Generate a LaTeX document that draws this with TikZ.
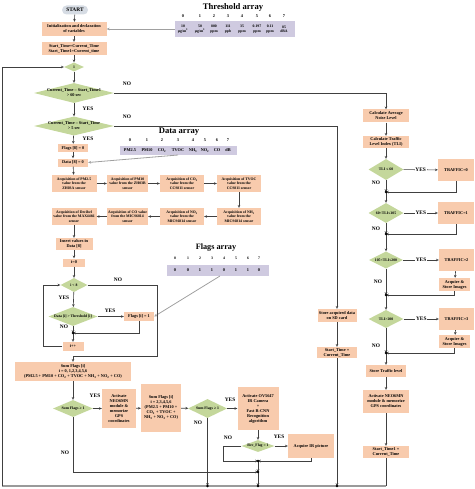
\documentclass[tikz,border=0pt]{standalone}
\usepackage{fontspec}
\setmainfont{Liberation Serif}
\usetikzlibrary{shapes.geometric,arrows.meta}
\definecolor{salm}{HTML}{F8CBAD}
\definecolor{grn}{HTML}{C4D79B}
\definecolor{lav}{HTML}{CFCAE0}
\definecolor{stc}{HTML}{D6DCE4}
\definecolor{lnc}{HTML}{404040}
\definecolor{ptc}{HTML}{A0A0A0}
\definecolor{btc}{HTML}{9A9A9A}
\newcommand\fa{\fontsize{3.8}{4.4}\selectfont\bfseries}
\newcommand\fb{\fontsize{4.3}{5}\selectfont\bfseries}
\newcommand\fl{\fontsize{5.4}{6}\selectfont\bfseries}
\newcommand\ft{\fontsize{8.6}{10}\selectfont\bfseries}
\begin{document}
\begin{tikzpicture}[x=1pt,y=-1pt,
  box/.style={fill=salm, inner sep=0.3pt, align=center, font=\fb},
  abox/.style={box, font=\fa, minimum width=44pt, minimum height=17pt},
  dm/.style 2 args={diamond, fill=grn, inner sep=0pt, minimum width=#1, minimum height=#2},
  dtxt/.style={font=\fa, align=center, inner sep=0pt},
  ln/.style={draw=lnc, line width=0.6pt},
  ar/.style={ln, -{Stealth[length=2.8pt,width=2.6pt]}},
  ptr/.style={draw=ptc, line width=0.8pt, -{Stealth[length=3pt,width=2.8pt]}},
  bot/.style={draw=btc, line width=1.8pt},
  lbl/.style={font=\fl, inner sep=0.5pt},
  lblw/.style={font=\fl, inner sep=0.6pt, fill=white},
  arr/.style={fill=lav, inner sep=0pt},
  idx/.style={font=\fb, inner sep=0pt},
  cell/.style={font=\fa, align=center, inner sep=0pt},
  jd/.style={fill=black}
]
\useasboundingbox (0,0) rectangle (474,489);

% ---------- left main column ----------
\node[fill=stc, rounded corners=4.5pt, minimum width=26pt, minimum height=9pt, inner sep=0pt, font=\fl] (start) at (75,10) {START};
\node[box, minimum width=65pt, minimum height=14pt] (init) at (74,29) {Initialization and declaration\\of variables};
\node[box, minimum width=65pt, minimum height=13pt] (st) at (74,48.5) {Start\_Time=Current\_Time\\Start\_Time1=Current\_time};
\node[dm={20pt}{9pt}] (d1) at (74,67) {};
\node[dtxt] (d1t) at (d1) {1};
\node[dm={80pt}{20pt}] (dA) at (74,93) {};
\node[dtxt, font=\fb] (dAt) at (dA) {Current\_Time -- Start\_Time1\\> 60 sec};
\node[dm={80pt}{19pt}] (dB) at (74,126) {};
\node[dtxt, font=\fb] (dBt) at (dB) {Current\_Time -- Start\_Time\\> 5 sec};
\node[box, minimum width=30pt, minimum height=8pt] (flags0) at (73,148) {Flags [8] = 0};
\node[box, minimum width=30pt, minimum height=8pt] (data0) at (73,162.5) {Data [8] = 0};

\node[abox, minimum width=45pt] (acqA) at (74,183.5) {Acquisition of PM2.5\\value from the\\ZH03A sensor};
\node[abox, minimum width=41pt] (acqB) at (127.5,183.5) {Acquisition of PM10\\value from the ZH03B\\sensor};
\node[abox] (acqC) at (182,183.5) {Acquisition of CO\textsubscript{2}\\value from the\\CCS811 sensor};
\node[abox] (acqD) at (239,183.5) {Acquisition of TVOC\\value from the\\CCS811 sensor};
\node[abox] (acqH) at (239,216.5) {Acquisition of NH\textsubscript{3}\\value from the\\MICS6814 sensor};
\node[abox] (acqG) at (182,216.5) {Acquisition of NO\textsubscript{2}\\value from the\\MICS6814 sensor};
\node[abox, minimum width=41pt] (acqF) at (127.5,216.5) {Acquisition of CO value\\from the MICS6814\\sensor};
\node[abox, minimum width=45pt] (acqE) at (74,216.5) {Acquisition of Decibel\\value from the MAX4466\\sensor};

\node[box, minimum width=37pt, minimum height=12pt] (insert) at (74,244) {Insert values in\\Data [8]};
\node[box, minimum width=22pt, minimum height=8pt] (i0) at (74,262.5) {i=0};
\node[dm={27pt}{14pt}] (di) at (74,285) {};
\node[dtxt] (dit) at (di) {i < 8};
\node[dm={49pt}{19pt}] (dth) at (73,316.5) {};
\node[dtxt] (dtht) at (dth) {Data [i] > Threshold [i]};
\node[box, minimum width=30pt, minimum height=9pt] (flg1) at (139,316.5) {Flags [i] = 1};
\coordinate (j1) at (73,333);
\node[box, minimum width=21pt, minimum height=9pt] (ipp) at (73,346.5) {i++};
\node[box, minimum width=116pt, minimum height=19pt] (sum1) at (73,371.5) {Sum Flags [i]\\i = 0, 1,2,3,4,5,6\\(PM2.5 + PM10 + CO\textsubscript{2} + TVOC + NH\textsubscript{3} + NO\textsubscript{2} + CO)};
\node[dm={40pt}{17pt}] (ds1) at (73,408.5) {};
\node[dtxt] (ds1t) at (ds1) {Sum Flags ≥ 1};
\node[box, minimum width=34pt, minimum height=39pt] (neo1) at (119,408.5) {Activate\\NEO6MN\\module \&\\memorize\\GPS\\coordinates};
\node[box, minimum width=40pt, minimum height=48pt] (sum2) at (161,408) {Sum Flags [i]\\i = 2,3,4,5,6\\(PM2.5 + PM10 +\\CO\textsubscript{2} + TVOC +\\NH\textsubscript{3} + NO\textsubscript{2} + CO)};
\node[dm={39pt}{19pt}] (ds2) at (207.5,408.5) {};
\node[dtxt] (ds2t) at (ds2) {Sum Flags ≥ 1};
\node[box, minimum width=41pt, minimum height=43pt] (ov) at (258,408.5) {Activate OV5647\\IR Camera\\+\\Fast R-CNN\\Recognition\\algorithm};
\node[dm={33pt}{12pt}] (drec) at (258,446) {};
\node[dtxt] (drect) at (drec) {Rec\_Flag = 1};
\node[box, minimum width=46pt, minimum height=24pt] (acqir) at (311,446) {Acquire IR picture};

% ---------- middle column ----------
\node[box, minimum width=39pt, minimum height=13pt] (sd) at (337,315.5) {Store acquired data\\on SD card};
\node[box, minimum width=40pt, minimum height=11pt] (stt) at (337,352.5) {Start\_Time =\\Current\_Time};

% ---------- right column ----------
\node[box, minimum width=46pt, minimum height=13pt] (avg) at (386,116) {Calculate Average\\Noise Level};
\node[box, minimum width=46pt, minimum height=12pt] (tli) at (386,142) {Calculate Traffic\\Level Index (TLI)};
\node[dm={35pt}{21pt}] (dt1) at (386,169.5) {};
\node[dtxt] (dt1t) at (dt1) {TLI ≤ 60};
\node[box, minimum width=36pt, minimum height=22pt] (t0) at (456,170) {TRAFFIC=0};
\coordinate (jt1) at (386,192);
\node[dm={35pt}{20pt}] (dt2) at (386,213) {};
\node[dtxt] (dt2t) at (dt2) {60<TLI≤105};
\node[box, minimum width=36pt, minimum height=22pt] (t1) at (456,213) {TRAFFIC=1};
\coordinate (jt2) at (386,234);
\node[dm={34pt}{17pt}] (dt3) at (386,260) {};
\node[dtxt] (dt3t) at (dt3) {105<TLI≤200};
\node[box, minimum width=35pt, minimum height=22pt] (t2) at (456.5,260) {TRAFFIC=2};
\node[box, minimum width=31pt, minimum height=13pt] (as2) at (454.5,284.5) {Acquire \&\\Store Images};
\coordinate (jt3) at (386,295);
\node[dm={35pt}{18pt}] (dt4) at (386,319) {};
\node[dtxt] (dt4t) at (dt4) {TLI>200};
\node[box, minimum width=35pt, minimum height=22pt] (t3) at (456.5,319) {TRAFFIC=3};
\node[box, minimum width=31pt, minimum height=13pt] (as3) at (454.5,341.5) {Acquire \&\\Store Images};
\coordinate (jt4) at (386,353);
\node[box, minimum width=40pt, minimum height=12pt] (stl) at (386,371) {Store Traffic level};
\node[box, minimum width=46pt, minimum height=23pt] (neo2) at (386,401.5) {Activate NEO6MN\\module \& memorize\\GPS coordinates};
\node[box, minimum width=46pt, minimum height=12pt] (st1) at (386,452) {Start\_Time1 =\\Current\_Time};

% ---------- arrays ----------
\node[font=\ft, inner sep=0pt] (thrt) at (233,7) {Threshold array};
\node[arr, minimum width=120pt, minimum height=16pt] (thr) at (235,29) {};
\foreach \i/\x/\t in {0/183/{10\\µg/m\textsuperscript{3}},1/200/{50\\µg/m\textsuperscript{3}},2/214/{800\\ppm},3/228/{111\\ppb},4/242/{35\\ppm},5/257/{0.197\\ppm},6/270/{0.11\\ppm},7/284/{85\\dBA}}{
  \node[idx] (ti\i) at (\x,16) {\i};
  \node[cell] (tc\i) at (\x,29) {\t};
}
\node[font=\ft, inner sep=0pt] (datt) at (179,132) {Data array};
\node[arr, minimum width=117pt, minimum height=9pt] (dat) at (178.5,150.5) {};
\foreach \i/\x/\t in {0/130/{PM2.5},1/147/{PM10},2/162/{CO\textsubscript{2}},3/178/{TVOC},4/193/{NH\textsubscript{3}},5/205/{NO\textsubscript{2}},6/217/{CO},7/228/{dB}}{
  \node[idx] (di\i) at (\x,140.5) {\i};
  \node[cell, font=\fb] (dc\i) at (\x,150.5) {\t};
}
\node[font=\fontsize{8.2}{9}\selectfont\bfseries, inner sep=0pt] (flt) at (216,248) {Flags array};
\node[arr, minimum width=102pt, minimum height=11pt] (fla) at (218,270.5) {};
\foreach \i/\x/\t in {0/175/0,1/188/0,2/200/1,3/212/1,4/224/0,5/236/1,6/248/1,7/259/0}{
  \node[idx, font=\fa] (fi\i) at (\x,258) {\i};
  \node[cell, font=\fb] (fc\i) at (\x,270.5) {\t};
}
\coordinate (dap) at (178,155);
\coordinate (flp) at (220,276);
\draw[ptr] (thr.west) -- (init.east);
\draw[ptr] (dap) -- (data0.east);
\draw[ptr] (flp) -- (flg1.east);

% ---------- helper coordinates ----------
\coordinate (lp) at (43,346.5);
\coordinate (rp) at (157,285);
\coordinate (rq) at (157,356);
\coordinate (rl) at (223,446);
\coordinate (j2) at (258,461);
\coordinate (j3) at (258,472);
\coordinate (nl) at (73,472);
\coordinate (b1) at (207.5,486);
\coordinate (b2) at (258,486);
\coordinate (b3) at (337,486);
\coordinate (b4) at (386,486);
\coordinate (b0) at (2,486);
\coordinate (lt) at (2,67);

% ---------- connectors ----------
\draw[ar] (start) -- (init);
\draw[ar] (init) -- (st);
\draw[ar] (st) -- (d1);
\draw[ar] (d1) -- (dA);
\draw[ar] (dA) -- (dB);
\draw[ar] (dA.east) -| (avg.north);
\draw[ar] (dB.east) -| (sd.north);
\draw[ar] (dB) -- (flags0);
\draw[ar] (flags0) -- (data0);
\draw[ar] (data0) -- (acqA);
\draw[ar] (acqA) -- (acqB);
\draw[ar] (acqB) -- (acqC);
\draw[ar] (acqC) -- (acqD);
\draw[ar] (acqD) -- (acqH);
\draw[ar] (acqH) -- (acqG);
\draw[ar] (acqG) -- (acqF);
\draw[ar] (acqF) -- (acqE);
\draw[ar] (acqE) -- (insert);
\draw[ar] (insert) -- (i0);
\draw[ar] (i0) -- (di);
\draw[ar] (di) -- (dth);
\draw[ar] (dth) -- (flg1);
\draw[ar] (dth.south) -- (j1);
\draw[ar] (flg1.south) |- (j1);
\draw[ar] (j1) -- (ipp);
\draw[ar] (ipp.west) -- (lp) |- (di.west);
\draw[ar] (di.east) -- (rp) -- (rq) -| (sum1.north);
\draw[ar] (sum1) -- (ds1);
\draw[ar] (ds1) -- (neo1);
\draw[ar] (neo1) -- (sum2);
\draw[ar] (sum2) -- (ds2);
\draw[ar] (ds2) -- (ov);
\draw[ar] (ov) -- (drec);
\draw[ar] (drec) -- (acqir);
\draw[ar] (drec.west) -- (rl) |- (j2);
\draw[ar] (acqir.south) |- (j2);
\draw[ar] (j2) -- (j3);
\draw[ar] (ds1.south) -- (nl) -- (j3);
\draw[ar] (j3) -- (b2);
\draw[ar] (ds2.south) -- (b1);
\draw[ar] (sd) -- (stt);
\draw[ar] (stt) -- (b3);

\draw[ar] (avg) -- (tli);
\draw[ar] (tli) -- (dt1);
\draw[ar] (dt1) -- node[lblw] (y1) {YES} (t0);
\draw[ar] (dt1.south) -- (jt1);
\draw[ar] (t0.south) |- (jt1);
\draw[ar] (jt1) -- (dt2);
\draw[ar] (dt2) -- node[lblw] (y2) {YES} (t1);
\draw[ar] (dt2.south) -- (jt2);
\draw[ar] (t1.south) |- (jt2);
\draw[ar] (jt2) -- (dt3);
\draw[ar] (dt3) -- node[lblw] (y3) {YES} (t2);
\draw[ar] (t2) -- (as2);
\draw[ar] (dt3.south) -- (jt3);
\draw[ar] (as2.south) |- (jt3);
\draw[ar] (jt3) -- (dt4);
\draw[ar] (dt4) -- node[lblw] (y4) {YES} (t3);
\draw[ar] (t3) -- (as3);
\draw[ar] (dt4.south) -- (jt4);
\draw[ar] (as3.south) |- (jt4);
\draw[ar] (jt4) -- (stl);
\draw[ar] (stl) -- (neo2);
\draw[ar] (neo2) -- (st1);
\draw[ln] (st1.south) -- (b4);
\draw[bot] (b4) -- (b0);
\draw[ar] (b0) -- (lt) -- (d1.west);

% ---------- junction dots ----------
\foreach \p in {j1,j2,j3,jt1,jt2,jt3,jt4,b1,b2,b3}{\fill[jd] (\p) circle (1.3pt);}

% ---------- labels ----------
\node[lbl] (n1) at (127,84) {NO};
\node[lbl] (y5) at (88,109) {YES};
\node[lbl] (n2) at (127,117) {NO};
\node[lbl] (y6) at (88,139) {YES};
\node[lbl] (n3) at (118,280) {NO};
\node[lbl] (y7) at (64,298) {YES};
\node[lbl] (y8) at (110,311) {YES};
\node[lbl] (n4) at (64,327) {NO};
\node[lbl] (y9) at (95,396) {YES};
\node[lbl] (n5) at (65,453) {NO};
\node[lbl] (y10) at (230,400) {YES};
\node[lbl] (n6) at (198,423) {NO};
\node[lbl] (n7) at (228,438) {NO};
\node[lbl] (y11) at (279,437) {YES};
\node[lbl] (n8) at (376,183) {NO};
\node[lbl] (n9) at (376,229) {NO};
\node[lbl] (n10) at (378,282) {NO};
\node[lbl] (n11) at (376,346) {NO};
\end{tikzpicture}
\end{document}
